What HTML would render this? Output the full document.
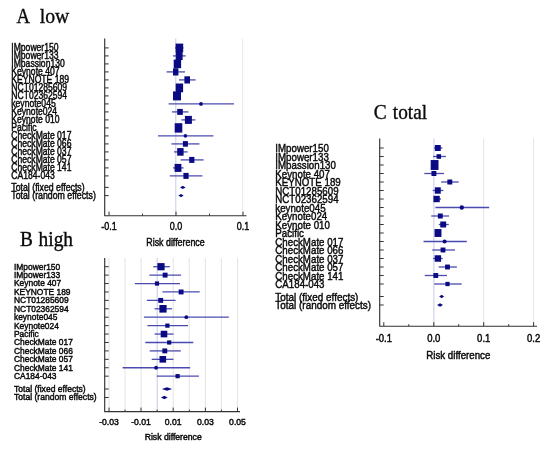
<!DOCTYPE html>
<html><head><meta charset="utf-8"><title>Forest plots</title>
<style>
html,body{margin:0;padding:0;background:#fff}
svg{display:block;filter:blur(0.4px)}
svg text{font-family:"Liberation Sans",Arial,sans-serif;fill:#0a0a0a;stroke:#0a0a0a;stroke-width:0.45px}
svg text.ttl{font-family:"Liberation Serif","Times New Roman",serif;stroke-width:0.35px}
</style></head>
<body>
<svg width="550" height="449" viewBox="0 0 550 449">
<rect width="550" height="449" fill="#fff"/>
<text class="ttl" transform="translate(16.5 23.2) scale(0.92 1)" font-size="20.4">A</text>
<text class="ttl" transform="translate(39.7 23.2) scale(0.967 1)" font-size="20.4">low</text>
<text class="ttl" transform="translate(19.9 246) scale(0.965 1)" font-size="20">B</text>
<text class="ttl" transform="translate(38.6 246) scale(0.97 1)" font-size="20">high</text>
<text class="ttl" transform="translate(373.8 119.4) scale(0.97 1)" font-size="20">C</text>
<text class="ttl" transform="translate(392.8 119.4) scale(0.965 1)" font-size="20">total</text>
<text transform="translate(11.3 51.4) scale(0.835 1)" font-size="10.3">IMpower150</text>
<text transform="translate(11.3 59.4) scale(0.835 1)" font-size="10.3">IMpower133</text>
<text transform="translate(11.3 67.4) scale(0.835 1)" font-size="10.3">IMpassion130</text>
<text transform="translate(11.3 75.4) scale(0.835 1)" font-size="10.3">Keynote 407</text>
<text transform="translate(11.3 83.4) scale(0.835 1)" font-size="10.3">KEYNOTE 189</text>
<text transform="translate(11.3 91.4) scale(0.835 1)" font-size="10.3">NCT01285609</text>
<text transform="translate(11.3 99.4) scale(0.835 1)" font-size="10.3">NCT02362594</text>
<text transform="translate(11.3 107.4) scale(0.835 1)" font-size="10.3">keynote045</text>
<text transform="translate(11.3 115.4) scale(0.835 1)" font-size="10.3">Keynote024</text>
<text transform="translate(11.3 123.4) scale(0.835 1)" font-size="10.3">Keynote 010</text>
<text transform="translate(11.3 131.4) scale(0.835 1)" font-size="10.3">Pacific</text>
<text transform="translate(11.3 139.4) scale(0.835 1)" font-size="10.3">CheckMate 017</text>
<text transform="translate(11.3 147.4) scale(0.835 1)" font-size="10.3">CheckMate 066</text>
<text transform="translate(11.3 155.4) scale(0.835 1)" font-size="10.3">CheckMate 037</text>
<text transform="translate(11.3 163.4) scale(0.835 1)" font-size="10.3">CheckMate 057</text>
<text transform="translate(11.3 171.4) scale(0.835 1)" font-size="10.3">CheckMate 141</text>
<text transform="translate(11.3 179.4) scale(0.835 1)" font-size="10.3">CA184-043</text>
<text transform="translate(11.3 190.9) scale(0.852 1)" font-size="10.3">Total (fixed effects)</text>
<text transform="translate(11.3 199.1) scale(0.852 1)" font-size="10.3">Total (random effects)</text>
<line x1="175.8" x2="175.8" y1="38.6" y2="215.7" stroke="#b9bce0" stroke-width="0.8"/>
<line x1="242.6" x2="242.6" y1="38.6" y2="215.7" stroke="#e4e4e4" stroke-width="0.8"/>
<line x1="175" x2="183.4" y1="47.9" y2="47.9" stroke="#4a4ab0" stroke-width="1.3"/>
<rect x="175.6" y="43.6" width="7.6" height="8.6" fill="#0a0a82"/>
<line x1="173" x2="185.6" y1="55.9" y2="55.9" stroke="#4a4ab0" stroke-width="1.3"/>
<rect x="175.8" y="51.7" width="6.8" height="8.4" fill="#0a0a82"/>
<rect x="173.7" y="59.6" width="7.4" height="8.6" fill="#0a0a82"/>
<line x1="166.6" x2="185" y1="71.9" y2="71.9" stroke="#4a4ab0" stroke-width="1.3"/>
<rect x="173" y="68.3" width="5.4" height="7.2" fill="#0a0a82"/>
<line x1="179" x2="195.6" y1="79.9" y2="79.9" stroke="#4a4ab0" stroke-width="1.3"/>
<rect x="184.4" y="76.3" width="5.6" height="7.2" fill="#0a0a82"/>
<rect x="175.7" y="83.5" width="7.4" height="8.8" fill="#0a0a82"/>
<rect x="173" y="91.4" width="8" height="9" fill="#0a0a82"/>
<line x1="168.6" x2="234" y1="103.9" y2="103.9" stroke="#4a4ab0" stroke-width="1.3"/>
<circle cx="201" cy="103.9" r="1.9" fill="#0a0a82"/>
<line x1="172" x2="188.4" y1="111.9" y2="111.9" stroke="#4a4ab0" stroke-width="1.3"/>
<rect x="177.2" y="108.9" width="5.6" height="6" fill="#0a0a82"/>
<line x1="181.4" x2="195.4" y1="119.9" y2="119.9" stroke="#4a4ab0" stroke-width="1.3"/>
<rect x="184.9" y="115.9" width="7" height="8" fill="#0a0a82"/>
<rect x="174.7" y="123.2" width="7.6" height="9.4" fill="#0a0a82"/>
<line x1="158" x2="213.4" y1="135.9" y2="135.9" stroke="#4a4ab0" stroke-width="1.3"/>
<circle cx="185.4" cy="135.9" r="1.8" fill="#0a0a82"/>
<line x1="171.4" x2="199.4" y1="143.9" y2="143.9" stroke="#4a4ab0" stroke-width="1.3"/>
<rect x="182.9" y="141.1" width="5" height="5.6" fill="#0a0a82"/>
<line x1="174" x2="187.6" y1="151.9" y2="151.9" stroke="#4a4ab0" stroke-width="1.3"/>
<rect x="177.2" y="148.1" width="6.4" height="7.6" fill="#0a0a82"/>
<line x1="180.6" x2="203.6" y1="159.9" y2="159.9" stroke="#4a4ab0" stroke-width="1.3"/>
<rect x="189.2" y="156.9" width="5.2" height="6" fill="#0a0a82"/>
<line x1="173" x2="183.6" y1="167.9" y2="167.9" stroke="#4a4ab0" stroke-width="1.3"/>
<rect x="174.6" y="163.9" width="6.8" height="8" fill="#0a0a82"/>
<line x1="169.8" x2="202.4" y1="175.9" y2="175.9" stroke="#4a4ab0" stroke-width="1.3"/>
<rect x="183.4" y="172.9" width="5.2" height="6" fill="#0a0a82"/>
<polygon points="180,187.4 182.8,185.8 185.6,187.4 182.8,189" fill="#0a0a82"/>
<polygon points="178.4,195.6 181,194 183.6,195.6 181,197.2" fill="#0a0a82"/>
<path d="M104.7 38.6V215.7H246.5" fill="none" stroke="#333" stroke-width="1.15"/>
<path d="M104.7 47.9h4M104.7 55.9h4M104.7 63.9h4M104.7 71.9h4M104.7 79.9h4M104.7 87.9h4M104.7 95.9h4M104.7 103.9h4M104.7 111.9h4M104.7 119.9h4M104.7 127.9h4M104.7 135.9h4M104.7 143.9h4M104.7 151.9h4M104.7 159.9h4M104.7 167.9h4M104.7 175.9h4M104.7 187.4h4M104.7 195.6h4" stroke="#333" stroke-width="1" fill="none"/>
<path d="M109 215.7v-4M176 215.7v-4M243 215.7v-4M142.5 215.7v-2M209.5 215.7v-2" stroke="#333" stroke-width="1" fill="none"/>
<text transform="translate(109 230.2) scale(0.87 1)" font-size="10.3" text-anchor="middle">-0.1</text>
<text transform="translate(176 230.2) scale(0.87 1)" font-size="10.3" text-anchor="middle">0.0</text>
<text transform="translate(243 230.2) scale(0.87 1)" font-size="10.3" text-anchor="middle">0.1</text>
<text transform="translate(175.5 246.1) scale(0.885 1)" font-size="10" text-anchor="middle">Risk difference</text>
<text transform="translate(14 269.6) scale(0.915 1)" font-size="9.2">IMpower150</text>
<text transform="translate(14 278.02) scale(0.915 1)" font-size="9.2">IMpower133</text>
<text transform="translate(14 286.44) scale(0.915 1)" font-size="9.2">Keynote 407</text>
<text transform="translate(14 294.86) scale(0.915 1)" font-size="9.2">KEYNOTE 189</text>
<text transform="translate(14 303.28) scale(0.915 1)" font-size="9.2">NCT01285609</text>
<text transform="translate(14 311.7) scale(0.915 1)" font-size="9.2">NCT02362594</text>
<text transform="translate(14 320.12) scale(0.915 1)" font-size="9.2">keynote045</text>
<text transform="translate(14 328.54) scale(0.915 1)" font-size="9.2">Keynote024</text>
<text transform="translate(14 336.96) scale(0.915 1)" font-size="9.2">Pacific</text>
<text transform="translate(14 345.38) scale(0.915 1)" font-size="9.2">CheckMate 017</text>
<text transform="translate(14 353.8) scale(0.915 1)" font-size="9.2">CheckMate 066</text>
<text transform="translate(14 362.22) scale(0.915 1)" font-size="9.2">CheckMate 057</text>
<text transform="translate(14 370.64) scale(0.915 1)" font-size="9.2">CheckMate 141</text>
<text transform="translate(14 379.06) scale(0.915 1)" font-size="9.2">CA184-043</text>
<text transform="translate(14 391.9) scale(0.933 1)" font-size="9.2">Total (fixed effects)</text>
<text transform="translate(14 400.4) scale(0.933 1)" font-size="9.2">Total (random effects)</text>
<line x1="109" x2="109" y1="258" y2="411.6" stroke="#dcdcdc" stroke-width="0.8"/>
<line x1="125.06" x2="125.06" y1="258" y2="411.6" stroke="#dcdcdc" stroke-width="0.8"/>
<line x1="141.12" x2="141.12" y1="258" y2="411.6" stroke="#dcdcdc" stroke-width="0.8"/>
<line x1="157.2" x2="157.2" y1="258" y2="411.6" stroke="#b9bce0" stroke-width="0.8"/>
<line x1="173.24" x2="173.24" y1="258" y2="411.6" stroke="#dcdcdc" stroke-width="0.8"/>
<line x1="189.3" x2="189.3" y1="258" y2="411.6" stroke="#dcdcdc" stroke-width="0.8"/>
<line x1="205.36" x2="205.36" y1="258" y2="411.6" stroke="#dcdcdc" stroke-width="0.8"/>
<line x1="221.42" x2="221.42" y1="258" y2="411.6" stroke="#dcdcdc" stroke-width="0.8"/>
<line x1="237.48" x2="237.48" y1="258" y2="411.6" stroke="#dcdcdc" stroke-width="0.8"/>
<line x1="153.2" x2="169.8" y1="266.7" y2="266.7" stroke="#4a4ab0" stroke-width="1.3"/>
<rect x="157.4" y="263.1" width="7.2" height="7.2" fill="#0a0a82"/>
<line x1="149.4" x2="181.1" y1="275.12" y2="275.12" stroke="#4a4ab0" stroke-width="1.3"/>
<rect x="162.65" y="272.67" width="4.9" height="4.9" fill="#0a0a82"/>
<line x1="134.9" x2="180" y1="283.54" y2="283.54" stroke="#4a4ab0" stroke-width="1.3"/>
<rect x="154.9" y="281.44" width="4.2" height="4.2" fill="#0a0a82"/>
<line x1="162.5" x2="199.7" y1="291.96" y2="291.96" stroke="#4a4ab0" stroke-width="1.3"/>
<rect x="178.65" y="289.51" width="4.9" height="4.9" fill="#0a0a82"/>
<line x1="146.8" x2="175.6" y1="300.38" y2="300.38" stroke="#4a4ab0" stroke-width="1.3"/>
<rect x="158.25" y="297.93" width="4.9" height="4.9" fill="#0a0a82"/>
<line x1="154.6" x2="172.1" y1="308.8" y2="308.8" stroke="#4a4ab0" stroke-width="1.3"/>
<rect x="159.4" y="305" width="7.2" height="7.6" fill="#0a0a82"/>
<line x1="143.9" x2="228.8" y1="317.22" y2="317.22" stroke="#4a4ab0" stroke-width="1.3"/>
<circle cx="186.3" cy="317.22" r="1.9" fill="#0a0a82"/>
<line x1="147.4" x2="188.1" y1="325.64" y2="325.64" stroke="#4a4ab0" stroke-width="1.3"/>
<rect x="165.3" y="323.54" width="4.2" height="4.2" fill="#0a0a82"/>
<line x1="154.6" x2="173.5" y1="334.06" y2="334.06" stroke="#4a4ab0" stroke-width="1.3"/>
<rect x="160.7" y="330.76" width="6.6" height="6.6" fill="#0a0a82"/>
<line x1="145.3" x2="193.3" y1="342.48" y2="342.48" stroke="#4a4ab0" stroke-width="1.3"/>
<rect x="167.1" y="340.38" width="4.2" height="4.2" fill="#0a0a82"/>
<line x1="149.7" x2="180.8" y1="350.9" y2="350.9" stroke="#4a4ab0" stroke-width="1.3"/>
<rect x="162.35" y="348.45" width="4.9" height="4.9" fill="#0a0a82"/>
<line x1="151.7" x2="173.5" y1="359.32" y2="359.32" stroke="#4a4ab0" stroke-width="1.3"/>
<rect x="159.5" y="356.02" width="6.6" height="6.6" fill="#0a0a82"/>
<line x1="122.6" x2="190.1" y1="367.74" y2="367.74" stroke="#4a4ab0" stroke-width="1.3"/>
<circle cx="156.1" cy="367.74" r="1.9" fill="#0a0a82"/>
<line x1="156.7" x2="198.9" y1="376.16" y2="376.16" stroke="#4a4ab0" stroke-width="1.3"/>
<rect x="175.5" y="374.06" width="4.2" height="4.2" fill="#0a0a82"/>
<polygon points="161.9,389 167,387.2 172.1,389 167,390.8" fill="#0a0a82"/>
<polygon points="161,397.5 164.35,395.8 167.7,397.5 164.35,399.2" fill="#0a0a82"/>
<path d="M104.7 258V411.6H240" fill="none" stroke="#333" stroke-width="1.15"/>
<path d="M104.7 266.7h4M104.7 275.12h4M104.7 283.54h4M104.7 291.96h4M104.7 300.38h4M104.7 308.8h4M104.7 317.22h4M104.7 325.64h4M104.7 334.06h4M104.7 342.48h4M104.7 350.9h4M104.7 359.32h4M104.7 367.74h4M104.7 376.16h4M104.7 389h4M104.7 397.5h4" stroke="#333" stroke-width="1" fill="none"/>
<path d="M109 411.6v-4M141 411.6v-4M173.2 411.6v-4M205.4 411.6v-4M237.5 411.6v-4M125.06 411.6v-2M157.18 411.6v-2M189.3 411.6v-2M221.42 411.6v-2" stroke="#333" stroke-width="1" fill="none"/>
<text transform="translate(109 425.4) scale(0.96 1)" font-size="9" text-anchor="middle">-0.03</text>
<text transform="translate(141 425.4) scale(0.96 1)" font-size="9" text-anchor="middle">-0.01</text>
<text transform="translate(173.2 425.4) scale(0.96 1)" font-size="9" text-anchor="middle">0.01</text>
<text transform="translate(205.4 425.4) scale(0.96 1)" font-size="9" text-anchor="middle">0.03</text>
<text transform="translate(237.5 425.4) scale(0.96 1)" font-size="9" text-anchor="middle">0.05</text>
<text transform="translate(173.2 440.2) scale(0.985 1)" font-size="8.8" text-anchor="middle">Risk difference</text>
<text transform="translate(275.3 152) scale(0.847 1)" font-size="11.5">IMpower150</text>
<text transform="translate(275.3 160.5) scale(0.847 1)" font-size="11.5">IMpower133</text>
<text transform="translate(275.3 169) scale(0.847 1)" font-size="11.5">IMpassion130</text>
<text transform="translate(275.3 177.5) scale(0.847 1)" font-size="11.5">Keynote 407</text>
<text transform="translate(275.3 186) scale(0.847 1)" font-size="11.5">KEYNOTE 189</text>
<text transform="translate(275.3 194.5) scale(0.847 1)" font-size="11.5">NCT01285609</text>
<text transform="translate(275.3 203) scale(0.847 1)" font-size="11.5">NCT02362594</text>
<text transform="translate(275.3 211.5) scale(0.847 1)" font-size="11.5">keynote045</text>
<text transform="translate(275.3 220) scale(0.847 1)" font-size="11.5">Keynote024</text>
<text transform="translate(275.3 228.5) scale(0.847 1)" font-size="11.5">Keynote 010</text>
<text transform="translate(275.3 237) scale(0.847 1)" font-size="11.5">Pacific</text>
<text transform="translate(275.3 245.5) scale(0.847 1)" font-size="11.5">CheckMate 017</text>
<text transform="translate(275.3 254) scale(0.847 1)" font-size="11.5">CheckMate 066</text>
<text transform="translate(275.3 262.5) scale(0.847 1)" font-size="11.5">CheckMate 037</text>
<text transform="translate(275.3 271) scale(0.847 1)" font-size="11.5">CheckMate 057</text>
<text transform="translate(275.3 279.5) scale(0.847 1)" font-size="11.5">CheckMate 141</text>
<text transform="translate(275.3 288) scale(0.847 1)" font-size="11.5">CA184-043</text>
<text transform="translate(275.3 300.5) scale(0.864 1)" font-size="11.5">Total (fixed effects)</text>
<text transform="translate(275.3 309) scale(0.864 1)" font-size="11.5">Total (random effects)</text>
<line x1="433.9" x2="433.9" y1="138.5" y2="326.2" stroke="#b9bce0" stroke-width="0.8"/>
<line x1="483.7" x2="483.7" y1="138.5" y2="326.2" stroke="#dcdcdc" stroke-width="0.8"/>
<line x1="533.6" x2="533.6" y1="138.5" y2="326.2" stroke="#dcdcdc" stroke-width="0.8"/>
<line x1="434" x2="442.5" y1="148" y2="148" stroke="#4a4ab0" stroke-width="1.3"/>
<rect x="434.85" y="145" width="5.9" height="6" fill="#0a0a82"/>
<line x1="433" x2="445.9" y1="156.5" y2="156.5" stroke="#4a4ab0" stroke-width="1.3"/>
<rect x="436.55" y="154.2" width="4.5" height="4.6" fill="#0a0a82"/>
<rect x="430.7" y="160.05" width="7.8" height="9.9" fill="#0a0a82"/>
<line x1="424.3" x2="443.9" y1="173.5" y2="173.5" stroke="#4a4ab0" stroke-width="1.3"/>
<rect x="431.45" y="171" width="4.9" height="5" fill="#0a0a82"/>
<line x1="441.2" x2="458.6" y1="182" y2="182" stroke="#4a4ab0" stroke-width="1.3"/>
<rect x="447.35" y="179.5" width="4.9" height="5" fill="#0a0a82"/>
<line x1="432.7" x2="443.4" y1="190.5" y2="190.5" stroke="#4a4ab0" stroke-width="1.3"/>
<rect x="434.85" y="187.3" width="5.9" height="6.4" fill="#0a0a82"/>
<line x1="434" x2="441" y1="199" y2="199" stroke="#4a4ab0" stroke-width="1.3"/>
<rect x="433.45" y="195.8" width="6.3" height="6.4" fill="#0a0a82"/>
<line x1="435.4" x2="489.2" y1="207.5" y2="207.5" stroke="#4a4ab0" stroke-width="1.3"/>
<circle cx="461.8" cy="207.5" r="2.2" fill="#0a0a82"/>
<line x1="431.2" x2="449" y1="216" y2="216" stroke="#4a4ab0" stroke-width="1.3"/>
<rect x="437.85" y="213.5" width="4.9" height="5" fill="#0a0a82"/>
<line x1="438.8" x2="448.8" y1="224.5" y2="224.5" stroke="#4a4ab0" stroke-width="1.3"/>
<rect x="440.25" y="221.5" width="5.9" height="6" fill="#0a0a82"/>
<rect x="434.55" y="229.05" width="6.9" height="7.9" fill="#0a0a82"/>
<line x1="423.5" x2="466.8" y1="241.5" y2="241.5" stroke="#4a4ab0" stroke-width="1.3"/>
<circle cx="444.6" cy="241.5" r="2.05" fill="#0a0a82"/>
<line x1="432.3" x2="455" y1="250" y2="250" stroke="#4a4ab0" stroke-width="1.3"/>
<rect x="440.6" y="247.55" width="4.8" height="4.9" fill="#0a0a82"/>
<line x1="433.1" x2="442.7" y1="258.5" y2="258.5" stroke="#4a4ab0" stroke-width="1.3"/>
<rect x="434.7" y="255.25" width="6.4" height="6.5" fill="#0a0a82"/>
<line x1="438.7" x2="456.9" y1="267" y2="267" stroke="#4a4ab0" stroke-width="1.3"/>
<rect x="445.1" y="264.55" width="4.8" height="4.9" fill="#0a0a82"/>
<line x1="424.8" x2="447" y1="275.5" y2="275.5" stroke="#4a4ab0" stroke-width="1.3"/>
<rect x="433.4" y="273.05" width="4.8" height="4.9" fill="#0a0a82"/>
<line x1="434.2" x2="461.7" y1="284" y2="284" stroke="#4a4ab0" stroke-width="1.3"/>
<rect x="445.4" y="281.85" width="4.2" height="4.3" fill="#0a0a82"/>
<polygon points="439.2,296.5 441.65,294.8 444.1,296.5 441.65,298.2" fill="#0a0a82"/>
<polygon points="437.1,305 440.05,303.3 443,305 440.05,306.7" fill="#0a0a82"/>
<path d="M379.7 138.5V326.2H537" fill="none" stroke="#333" stroke-width="1.15"/>
<path d="M379.7 148h4M379.7 156.5h4M379.7 165h4M379.7 173.5h4M379.7 182h4M379.7 190.5h4M379.7 199h4M379.7 207.5h4M379.7 216h4M379.7 224.5h4M379.7 233h4M379.7 241.5h4M379.7 250h4M379.7 258.5h4M379.7 267h4M379.7 275.5h4M379.7 284h4M379.7 296.5h4M379.7 305h4" stroke="#333" stroke-width="1" fill="none"/>
<path d="M383.8 326.2v-4M433.8 326.2v-4M483.7 326.2v-4M533.6 326.2v-4M408.77 326.2v-2M458.71 326.2v-2M508.65 326.2v-2" stroke="#333" stroke-width="1" fill="none"/>
<text transform="translate(383.8 341.5) scale(0.905 1)" font-size="10.5" text-anchor="middle">-0.1</text>
<text transform="translate(433.8 341.5) scale(0.905 1)" font-size="10.5" text-anchor="middle">0.0</text>
<text transform="translate(483.7 341.5) scale(0.905 1)" font-size="10.5" text-anchor="middle">0.1</text>
<text transform="translate(533.6 341.5) scale(0.905 1)" font-size="10.5" text-anchor="middle">0.2</text>
<text transform="translate(458.3 359.1) scale(0.91 1)" font-size="10.7" text-anchor="middle">Risk difference</text>
</svg>
</body></html>
